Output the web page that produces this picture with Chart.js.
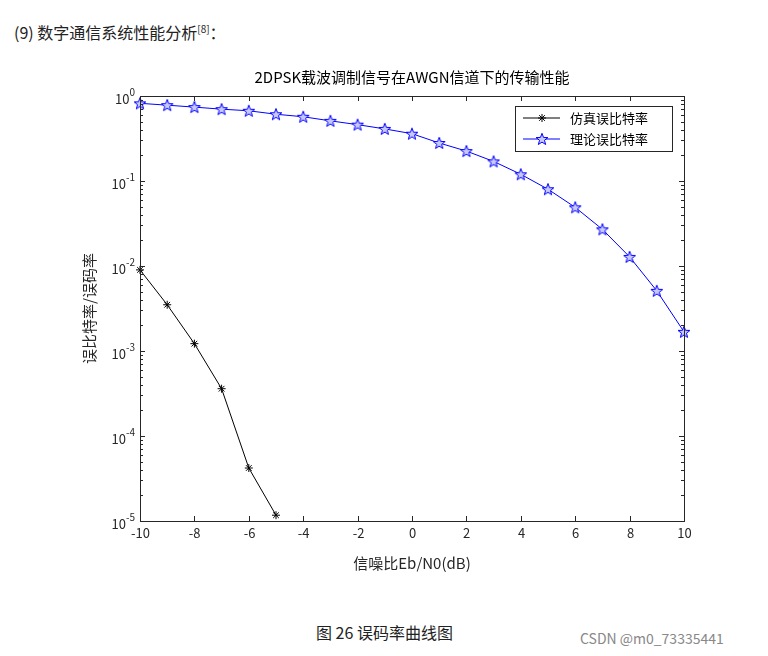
<!DOCTYPE html><html><head><meta charset="utf-8">
<script src="https://cdn.jsdelivr.net/npm/chart.js@4/dist/chart.umd.min.js"></script>
<style>body{margin:0;background:#fff;width:768px;height:656px;overflow:hidden;font-family:"Noto Sans CJK SC",serif}
#h{position:absolute;left:14px;top:20px;font-size:16px;color:#222}
#cap{position:absolute;left:316px;top:620px;font-size:16px;color:#222}
#wm{position:absolute;left:580px;top:628px;font-size:14px;color:#888}
canvas{position:absolute;left:0;top:0}</style></head><body>
<div id="h">(9) 数字通信系统性能分析<sup style="font-size:10px">[8]</sup>：</div>
<div id="cap">图 26 误码率曲线图</div><div id="wm">CSDN @m0_73335441</div>
<canvas id="c" width="768" height="656"></canvas>
<script>
const snrSim=[-10,-9,-8,-7,-6,-5];
const berSim=[0.0090,0.0035,0.00122,0.00036,4.2e-5,1.17e-5];
const snrTh=[-10,-9,-8,-7,-6,-5,-4,-3,-2,-1,0,1,2,3,4,5,6,7,8,9,10];
const berTh=[0.82,0.78,0.74,0.70,0.67,0.61,0.57,0.51,0.46,0.41,0.36,0.28,0.225,0.17,0.12,0.080,0.049,0.027,0.0128,0.0051,0.00168];
const xTicks=[-10,-8,-6,-4,-2,0,2,4,6,8,10];
const yExp=[0,-1,-2,-3,-4,-5];
const labels={title:'2DPSK载波调制信号在AWGN信道下的传输性能',x:'信噪比Eb/N0(dB)',y:'误比特率/误码率',s1:'仿真误比特率',s2:'理论误比特率'};
function pent(){const c=document.createElement('canvas');c.width=14;c.height=14;const g=c.getContext('2d');g.beginPath();
for(let i=0;i<10;i++){const r=i%2?2.6:6.2,a=-Math.PI/2+i*Math.PI/5;g.lineTo(7+r*Math.cos(a),7.5+r*Math.sin(a));}
g.closePath();g.fillStyle='#c8c8ff';g.fill();g.strokeStyle='#0000ff';g.lineWidth=1;g.stroke();return c;}
const P=pent();
const deco={id:'deco',afterDraw(ch){const g=ch.ctx,a=ch.chartArea,xs=ch.scales.x,ys=ch.scales.y;g.save();
g.strokeStyle='#262626';g.lineWidth=1;g.strokeRect(a.left+.5,a.top+.5,a.right-a.left,a.bottom-a.top);
g.fillStyle='#262626';g.font='13px "Noto Sans CJK SC"';g.textAlign='center';g.textBaseline='top';
xTicks.forEach(v=>{const x=Math.round(xs.getPixelForValue(v))+.5;g.beginPath();g.moveTo(x,a.bottom);g.lineTo(x,a.bottom-5);g.moveTo(x,a.top);g.lineTo(x,a.top+5);g.stroke();g.fillText(String(v),x,a.bottom+6);});
yExp.forEach(e=>{const y=Math.round(ys.getPixelForValue(Math.pow(10,e)))+.5;g.beginPath();g.moveTo(a.left,y);g.lineTo(a.left+5,y);g.moveTo(a.right,y);g.lineTo(a.right-5,y);g.stroke();
g.textAlign='right';g.font='10px "Noto Sans CJK SC"';const es=String(e);const w=g.measureText(es).width;g.textBaseline='bottom';g.fillText(es,a.left-5,y+1);
g.font='13px "Noto Sans CJK SC"';g.textBaseline='middle';g.fillText('10',a.left-5-w,y+3);});
for(let e=0;e>-5;e--)for(let k=2;k<10;k++){const y=Math.round(ys.getPixelForValue(k*Math.pow(10,e-1)))+.5;g.beginPath();g.moveTo(a.left,y);g.lineTo(a.left+3,y);g.moveTo(a.right,y);g.lineTo(a.right-3,y);g.stroke();}
g.textAlign='center';g.textBaseline='alphabetic';g.font='15px "Noto Sans CJK SC"';g.fillStyle='#000';g.fillText(labels.title,(a.left+a.right)/2,a.top-13);
g.font='15px "Noto Sans CJK SC"';g.fillStyle='#262626';g.fillText(labels.x,(a.left+a.right)/2,a.bottom+48);
g.save();g.translate(a.left-45,(a.top+a.bottom)/2);g.rotate(-Math.PI/2);g.fillText(labels.y,0,0);g.restore();
const lx=515,ly=106;g.fillStyle='#fff';g.fillRect(lx,ly,157,45);g.strokeStyle='#262626';g.strokeRect(lx+.5,ly+.5,157,45);
g.font='13px "Noto Sans CJK SC"';g.textAlign='left';g.textBaseline='middle';g.fillStyle='#000';
[[ly+12,'#000',labels.s1,0],[ly+33,'#00f',labels.s2,1]].forEach(([y,c,t,p])=>{g.strokeStyle=c;g.beginPath();g.moveTo(lx+8,y);g.lineTo(lx+45,y);g.stroke();
if(p)g.drawImage(P,lx+20,y-7);else{g.beginPath();for(let i=0;i<4;i++){const an=i*Math.PI/4;g.moveTo(lx+27-4*Math.cos(an),y-4*Math.sin(an));g.lineTo(lx+27+4*Math.cos(an),y+4*Math.sin(an));}g.stroke();}
g.fillText(t,lx+55,y);});g.restore();}};
new Chart(document.getElementById('c'),{type:'line',data:{datasets:[
{data:snrSim.map((x,i)=>({x,y:berSim[i]})),borderColor:'#000',borderWidth:1,pointStyle:'star',pointRadius:4,pointBorderColor:'#000',pointBorderWidth:1},
{data:snrTh.map((x,i)=>({x,y:berTh[i]})),borderColor:'#0000ff',borderWidth:1,pointStyle:P,pointRadius:6}]},
options:{responsive:false,animation:false,clip:false,layout:{padding:{left:80,top:96,right:84,bottom:85}},
plugins:{legend:{display:false},tooltip:{enabled:false}},
scales:{x:{type:'linear',min:-10,max:10,grid:{display:false},border:{display:false},ticks:{display:false},afterFit(s){s.height=50;}},
y:{type:'logarithmic',min:1e-5,max:1,grid:{display:false},border:{display:false},ticks:{display:false},afterFit(s){s.width=60;}}}},plugins:[deco]});
</script></body></html>
